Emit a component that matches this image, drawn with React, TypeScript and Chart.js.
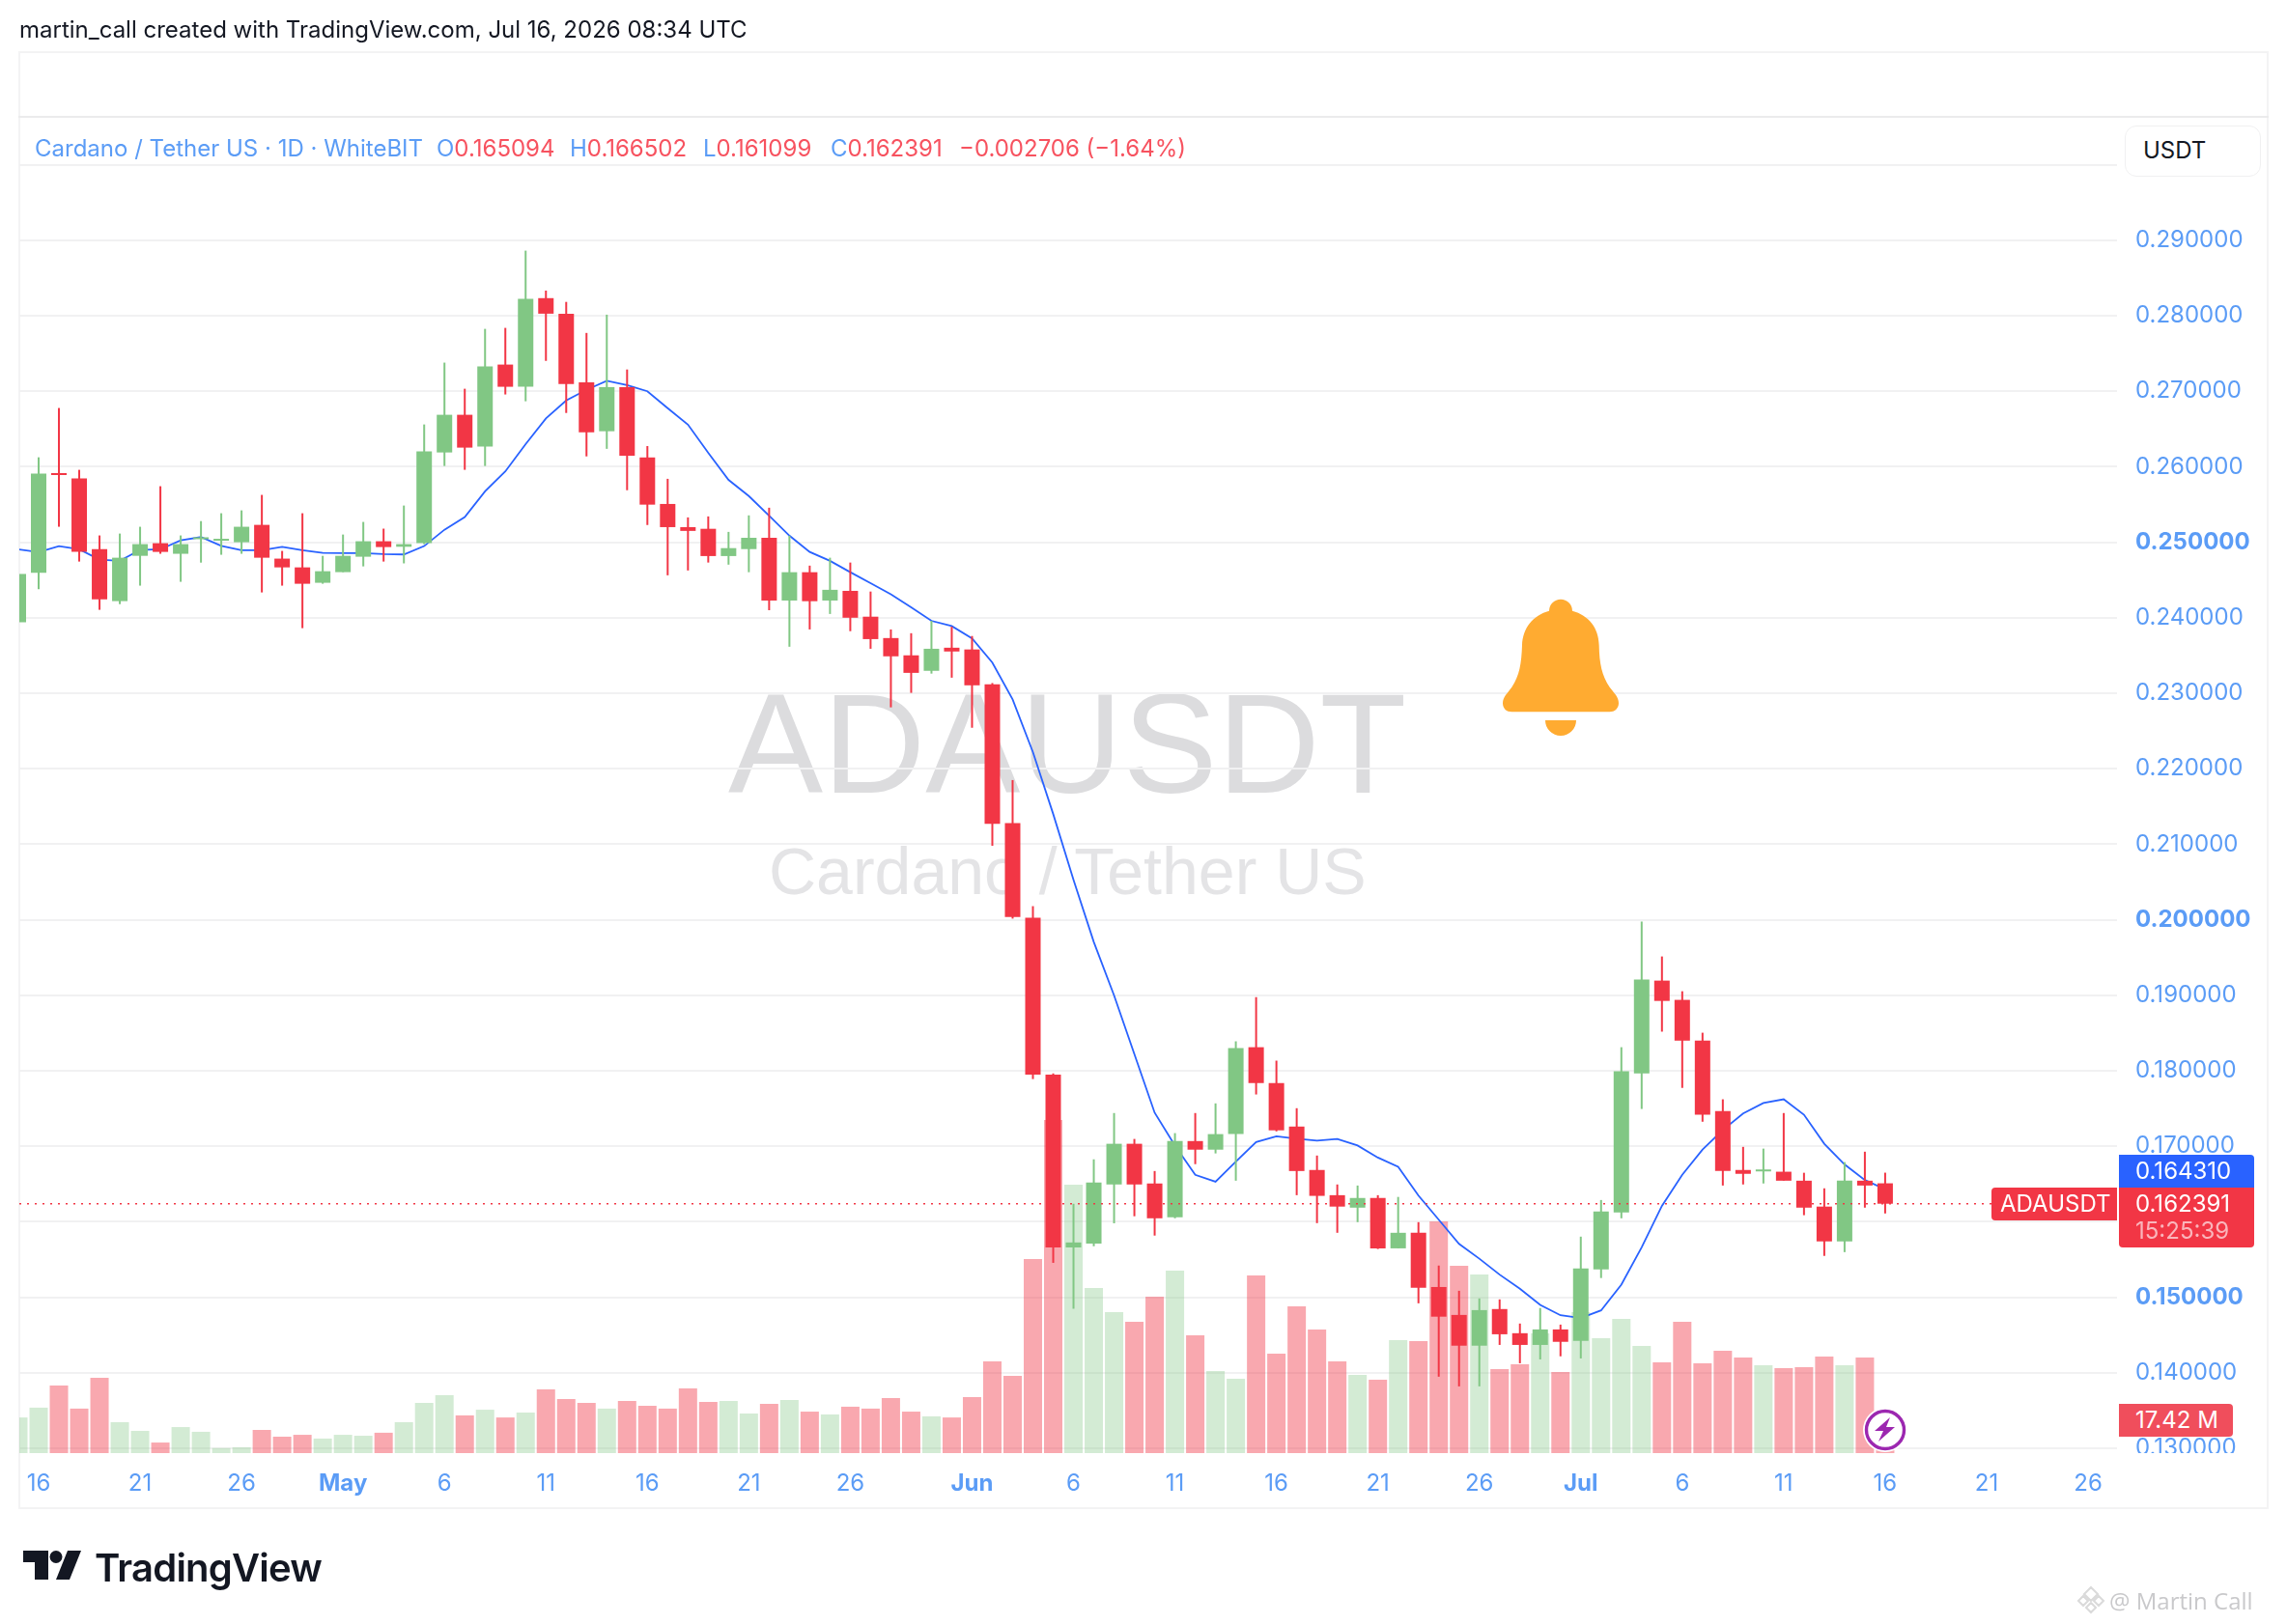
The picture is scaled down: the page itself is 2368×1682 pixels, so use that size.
import React, { useEffect, useRef } from "react";
import { Chart, registerables } from "chart.js";

Chart.register(...registerables);

const opens = [0.2394,0.24595,0.259,0.25844,0.2491,0.2422,0.2482,0.24987,0.24847,0.2504,0.2502,0.25,0.2523,0.24783,0.24667,0.24463,0.24604,0.24808,0.25013,0.2494,0.24987,0.26189,0.26688,0.26266,0.27353,0.27059,0.28233,0.28027,0.27119,0.2647,0.27055,0.26123,0.25507,0.252,0.25178,0.24817,0.24909,0.25059,0.24228,0.24603,0.24228,0.24356,0.24014,0.23731,0.23502,0.23297,0.23603,0.2358,0.23119,0.2128,0.20026,0.1795,0.1566,0.1571,0.16494,0.17033,0.16507,0.16059,0.17069,0.16955,0.17161,0.18312,0.17837,0.17261,0.16686,0.16352,0.16187,0.16315,0.15648,0.15854,0.15136,0.14766,0.14359,0.14844,0.14524,0.14369,0.14574,0.14423,0.15369,0.16123,0.17965,0.19194,0.18939,0.18399,0.17467,0.16686,0.16667,0.16663,0.16544,0.16201,0.1574,0.16544,0.165094];
const highs = [0.2458,0.26125,0.26778,0.25959,0.2509,0.25115,0.25205,0.25742,0.2509,0.2528,0.25384,0.25422,0.25627,0.24885,0.25384,0.2482,0.25102,0.25269,0.2518,0.25486,0.2656,0.27379,0.27033,0.27826,0.27839,0.28862,0.28333,0.28183,0.27772,0.28014,0.27288,0.26274,0.2584,0.25329,0.25342,0.25137,0.25356,0.25457,0.25087,0.2469,0.24795,0.24731,0.24347,0.23845,0.23795,0.23959,0.23881,0.23758,0.23135,0.2185,0.2018,0.17965,0.16238,0.16827,0.1744,0.17097,0.16672,0.17174,0.1744,0.17568,0.1839,0.18975,0.18134,0.17504,0.16877,0.16494,0.1648,0.16352,0.16329,0.15995,0.1542,0.15086,0.14985,0.14972,0.14652,0.14858,0.14638,0.15803,0.16288,0.18312,0.19976,0.19514,0.19053,0.18504,0.17622,0.16992,0.16969,0.1744,0.16649,0.16443,0.1679,0.16928,0.166502];
const lows = [0.2394,0.24378,0.25205,0.24744,0.24105,0.2418,0.24425,0.24847,0.24476,0.2473,0.24834,0.24847,0.24335,0.24425,0.23862,0.2445,0.24604,0.2468,0.24744,0.2472,0.24974,0.2601,0.25959,0.2601,0.26957,0.26867,0.27402,0.26712,0.26137,0.26237,0.25689,0.25228,0.24562,0.24626,0.24731,0.24703,0.24603,0.241,0.23616,0.23845,0.2405,0.23822,0.23589,0.22813,0.23005,0.2326,0.23206,0.22543,0.2098,0.20015,0.1789,0.15456,0.14848,0.15676,0.1598,0.16073,0.15817,0.16046,0.16763,0.16905,0.16544,0.17686,0.17197,0.16352,0.15982,0.15854,0.15995,0.15639,0.15648,0.1492,0.13948,0.1382,0.1382,0.14369,0.14126,0.14177,0.14218,0.1419,0.15255,0.16046,0.17494,0.18518,0.17773,0.17325,0.1648,0.16494,0.16507,0.16544,0.16087,0.15548,0.15598,0.16187,0.161099];
const closes = [0.2458,0.25908,0.2589,0.24872,0.24245,0.24795,0.24975,0.24872,0.24975,0.2505,0.25035,0.25205,0.24795,0.24667,0.2445,0.24616,0.2482,0.25013,0.24936,0.24975,0.26202,0.26688,0.26253,0.27328,0.27059,0.28223,0.28027,0.27096,0.26457,0.27055,0.26146,0.25498,0.252,0.2515,0.24817,0.24922,0.25059,0.24228,0.24603,0.24219,0.2437,0.24,0.23717,0.23489,0.2327,0.23589,0.23553,0.23105,0.2127,0.20037,0.1795,0.1566,0.15726,0.1652,0.17033,0.16494,0.16046,0.17069,0.16955,0.17161,0.18299,0.17837,0.17211,0.16672,0.16343,0.16201,0.16315,0.15648,0.15854,0.15127,0.14743,0.14359,0.1483,0.1451,0.14369,0.14574,0.1441,0.15383,0.16137,0.17993,0.19208,0.18925,0.18399,0.17417,0.16672,0.16635,0.16686,0.16544,0.16187,0.1574,0.16544,0.1648,0.162391];
const movingAverage = [0.24906,0.24868,0.24949,0.24906,0.2477,0.24753,0.24898,0.24906,0.25026,0.25068,0.24953,0.24893,0.24893,0.2494,0.24893,0.24859,0.24855,0.24855,0.24842,0.24838,0.24949,0.25166,0.25333,0.25674,0.25938,0.263,0.26639,0.26877,0.27018,0.27137,0.27082,0.27,0.26776,0.26557,0.26183,0.25826,0.25612,0.25352,0.25087,0.24872,0.24753,0.24603,0.24457,0.24311,0.24137,0.23959,0.2389,0.23726,0.23406,0.22918,0.2222,0.214,0.2053,0.19706,0.18998,0.18221,0.17444,0.1701,0.16622,0.1653,0.16795,0.17056,0.17133,0.17101,0.17074,0.17097,0.1701,0.1685,0.16727,0.16347,0.16027,0.15708,0.15511,0.153,0.15113,0.14899,0.14762,0.14725,0.14826,0.15168,0.15662,0.1621,0.16622,0.16955,0.17216,0.17435,0.17572,0.17622,0.17417,0.17033,0.16759,0.16553,0.16431];
const volumesM = [18.9,24.1,35.8,23.6,39.9,16.4,11.8,5.6,13.8,11.3,2.7,3.1,12.3,8.7,9.7,7.7,9.7,9.2,10.8,16.4,26.6,30.7,20.0,23.0,18.9,21.5,33.8,28.7,26.6,23.6,27.6,25.1,23.6,34.3,27.1,27.6,21.0,26.1,28.2,22.0,20.5,24.6,23.6,29.2,22.0,19.5,18.9,29.7,48.6,41.0,102.9,176.6,142.3,87.6,74.8,69.6,82.9,96.8,62.5,43.5,39.4,94.2,52.7,77.8,65.5,48.6,41.5,38.9,59.9,59.4,122.9,99.3,94.7,44.5,47.1,63.5,43.0,74.8,60.9,71.2,56.8,48.1,69.6,47.6,54.3,50.7,46.6,45.1,45.6,51.2,46.6,50.7,17.42];

const priceTicks = [0.13,0.14,0.15,0.16,0.17,0.18,0.19,0.2,0.21,0.22,0.23,0.24,0.25,0.26,0.27,0.28,0.29,0.3];
const boldPriceTicks = [0.15,0.2,0.25];
const hiddenPriceTicks = [0.16,0.3];
const dateTickIndex = [1,6,11,16,21,26,31,36,41,47,52,57,62,67,72,77,82,87,92,97,102];
const dateTickLabels = ["16","21","26","May","6","11","16","21","26","Jun","6","11","16","21","26","Jul","6","11","16","21","26"];
const boldDateLabels = ["May","Jun","Jul"];

const lastClose = 0.162391;
const GREEN = "#81C784";
const RED = "#F23645";
const BLUE_TEXT = "#5B9CF6";
const LEGEND_RED = "#F7525F";
const GRID = "#F1F1F2";
const FONT = "Inter, 'Noto Sans', sans-serif";

const W = 2368;
const H = 1682;
const area = { left: 20, right: 2192, top: 121, bottom: 1505 };

function abs(style: React.CSSProperties): React.CSSProperties {
  return { position: "absolute", whiteSpace: "nowrap", fontFamily: FONT, ...style };
}

export default function App() {
  const ref = useRef<HTMLCanvasElement | null>(null);

  useEffect(() => {
    if (!ref.current) return;
    const indices = closes.map((_, i) => i);
    const up = indices.map((i) => closes[i] >= opens[i]);
    const candleColors = up.map((u) => (u ? GREEN : RED));
    const volumeColors = up.map((u) => (u ? "rgba(129,199,132,0.35)" : "rgba(242,54,69,0.43)"));
    const xPitch = 21.01;
    const xMin = 1 / xPitch;
    const xMax = xMin + (area.right - area.left) / xPitch;

    const framePlugin = {
      id: "frame",
      beforeDraw(chart: any) {
        const c = chart.ctx;
        c.save();
        c.fillStyle = "#F3F3F4";
        c.fillRect(19, 53, 2, 1510);
        c.fillRect(2347, 53, 2, 1510);
        c.fillRect(19, 53, 2330, 2);
        c.fillRect(19, 1561, 2330, 2);
        c.fillStyle = "#EBEBEC";
        c.fillRect(19, 120, 2330, 2);
        c.restore();
      },
      afterDraw(chart: any) {
        const c = chart.ctx;
        c.save();
        c.fillStyle = "#FFFFFF";
        c.fillRect(2193, 1505, 150, 50);
        c.restore();
      },
    };

    const chart = new Chart(ref.current, {
      type: "bar",
      plugins: [framePlugin],
      data: {
        datasets: [
          {
            type: "bar",
            label: "Volume",
            yAxisID: "vol",
            order: 4,
            grouped: false,
            barThickness: 19,
            inflateAmount: 0,
            data: indices.map((i) => ({ x: i, y: volumesM[i] })),
            backgroundColor: volumeColors,
          },
          {
            type: "line",
            label: "MA",
            yAxisID: "y",
            order: 3,
            data: indices.map((i) => ({ x: i, y: movingAverage[i] })),
            borderColor: "#2962FF",
            borderWidth: 1.8,
            pointRadius: 0,
            tension: 0,
          },
          {
            type: "bar",
            label: "Wicks",
            yAxisID: "y",
            order: 2,
            grouped: false,
            barThickness: 2,
            inflateAmount: 0,
            data: indices.map((i) => ({ x: i, y: [lows[i], highs[i]] })),
            backgroundColor: candleColors,
          },
          {
            type: "bar",
            label: "Bodies",
            yAxisID: "y",
            order: 1,
            grouped: false,
            barThickness: 16,
            inflateAmount: 0,
            minBarLength: 2,
            data: indices.map((i) => ({ x: i, y: [opens[i], closes[i]] })),
            backgroundColor: candleColors,
          },
          {
            type: "line",
            label: "Last",
            yAxisID: "y",
            order: 0,
            data: [
              { x: xMin, y: lastClose },
              { x: xMax, y: lastClose },
            ],
            borderColor: RED,
            borderWidth: 1.6,
            borderDash: [2, 6],
            pointRadius: 0,
          },
        ] as any,
      },
      options: {
        responsive: false,
        animation: false,
        devicePixelRatio: 1,
        events: [],
        layout: {
          padding: { left: area.left, top: area.top, right: 0, bottom: 0 },
        },
        plugins: { legend: { display: false }, tooltip: { enabled: false }, title: { display: false } },
        scales: {
          x: {
            type: "linear",
            min: xMin,
            max: xMax,
            offset: false,
            grid: { display: false, drawTicks: false },
            border: { display: false },
            afterFit(scale: any) {
              scale.height = H - area.bottom;
            },
            afterBuildTicks(scale: any) {
              scale.ticks = dateTickIndex.map((v) => ({ value: v }));
            },
            ticks: {
              autoSkip: false,
              maxRotation: 0,
              minRotation: 0,
              padding: 17,
              color: BLUE_TEXT,
              callback: (v: any) => dateTickLabels[dateTickIndex.indexOf(v)],
              font: (ctx: any) => ({
                family: FONT,
                size: 24,
                weight: boldDateLabels.includes(dateTickLabels[dateTickIndex.indexOf(ctx.tick?.value)]) ? "bold" : "normal",
              }),
            },
          },
          y: {
            type: "linear",
            position: "right",
            min: 0.13 - 5 / 7820,
            max: 0.13 + 1379 / 7820,
            grid: { color: GRID, lineWidth: 2, drawTicks: false },
            border: { display: false },
            afterFit(scale: any) {
              scale.width = W - area.right;
            },
            afterBuildTicks(scale: any) {
              scale.ticks = priceTicks.map((v) => ({ value: v }));
            },
            ticks: {
              padding: 19,
              color: BLUE_TEXT,
              autoSkip: false,
              callback: (v: any) =>
                hiddenPriceTicks.some((t) => Math.abs(t - v) < 1e-9) ? "" : Number(v).toFixed(6),
              font: (ctx: any) => ({
                family: FONT,
                size: 24,
                weight: boldPriceTicks.some((t) => Math.abs(t - ctx.tick?.value) < 1e-9) ? "bold" : "normal",
              }),
            },
          },
          vol: {
            type: "linear",
            display: false,
            min: 0,
            max: (area.bottom - area.top) * 0.512,
          },
        },
      } as any,
    });
    return () => chart.destroy();
  }, []);

  const legendText = { fontSize: 24, top: 139, lineHeight: "30px" };
  const priceLabel = { fontSize: 24, color: "#FFFFFF", left: 2211 };

  return (
    <div style={{ position: "fixed", left: 0, top: 0, width: W, height: H, background: "#FFFFFF", overflow: "hidden" }}>
      <div style={abs({ left: 754, top: 690, fontSize: 147, lineHeight: "160px", color: "#DCDCDE", fontFamily: "'Liberation Sans', Arial, sans-serif" })}>ADAUSDT</div>
      <div style={abs({ left: 796, top: 862, fontSize: 68, lineHeight: "80px", color: "#E4E4E6", fontFamily: "'Liberation Sans', Arial, sans-serif" })}>Cardano / Tether US</div>

      <canvas ref={ref} width={W} height={H} style={{ position: "absolute", left: 0, top: 0, width: W, height: H }} />

      <div style={abs({ left: 20, top: 16, fontSize: 24, lineHeight: "30px", color: "#131722" })}>
        martin_call created with TradingView.com, Jul 16, 2026 08:34 UTC
      </div>

      <div style={abs({ ...legendText, left: 36, color: BLUE_TEXT })}>Cardano / Tether US · 1D · WhiteBIT</div>
      <div style={abs({ ...legendText, left: 452, color: BLUE_TEXT })}>O<span style={{ color: LEGEND_RED }}>0.165094</span></div>
      <div style={abs({ ...legendText, left: 590, color: BLUE_TEXT })}>H<span style={{ color: LEGEND_RED }}>0.166502</span></div>
      <div style={abs({ ...legendText, left: 728, color: BLUE_TEXT })}>L<span style={{ color: LEGEND_RED }}>0.161099</span></div>
      <div style={abs({ ...legendText, left: 860, color: BLUE_TEXT })}>C<span style={{ color: LEGEND_RED }}>0.162391</span></div>
      <div style={abs({ ...legendText, left: 993, color: LEGEND_RED })}>−0.002706 (−1.64%)</div>

      <div style={{ position: "absolute", left: 2200, top: 130, width: 139, height: 51, border: "1px solid #F0F0F1", borderRadius: 12, background: "#FFFFFF" }} />
      <div style={abs({ left: 2219, top: 141, fontSize: 24, lineHeight: "30px", color: "#131722" })}>USDT</div>

      <div style={{ position: "absolute", left: 2194, top: 1196, width: 140, height: 34, background: "#2962FF", borderRadius: "0 4px 0 0" }} />
      <div style={abs({ ...priceLabel, top: 1198, lineHeight: "30px" })}>0.164310</div>
      <div style={{ position: "absolute", left: 2062, top: 1230, width: 130, height: 34, background: RED, borderRadius: "4px 0 0 4px" }} />
      <div style={abs({ left: 2071, top: 1232, fontSize: 24, lineHeight: "30px", color: "#FFFFFF" })}>ADAUSDT</div>
      <div style={{ position: "absolute", left: 2194, top: 1230, width: 140, height: 62, background: RED, borderRadius: "0 0 4px 4px" }} />
      <div style={abs({ ...priceLabel, top: 1232, lineHeight: "30px" })}>0.162391</div>
      <div style={abs({ ...priceLabel, top: 1260, lineHeight: "30px", color: "#FAB5BB" })}>15:25:39</div>
      <div style={{ position: "absolute", left: 2194, top: 1454, width: 118, height: 34, background: "#F04E5C", borderRadius: "0 4px 4px 0" }} />
      <div style={abs({ ...priceLabel, top: 1456, lineHeight: "30px" })}>17.42 M</div>

      <svg style={{ position: "absolute", left: 1530, top: 600 }} width={170} height={180} viewBox="0 0 510 540">
        <path
          fill="#FFAB31"
          d="M222 98 A36 36 0 0 1 294 98 C345 112 376 150 377 205 C378 262 386 300 410 335 C425 355 438 365 438 385 C438 402 425 412 410 412 L106 412 C90 412 78 402 78 385 C78 365 92 355 106 335 C130 300 136 262 138 205 C140 150 172 112 222 98 Z M210 438 L306 438 A48 48 0 0 1 210 438 Z"
        />
      </svg>

      <svg style={{ position: "absolute", left: 1928, top: 1457 }} width={48} height={48} viewBox="0 0 48 48">
        <circle cx="24" cy="24" r="23" fill="#FFFFFF" />
        <circle cx="24" cy="24" r="19.5" fill="#FFFFFF" stroke="#9C27B0" strokeWidth="3.4" />
        <path fill="#9C27B0" d="M29 11 L13 25 L22 25 L17 36 L34 21 L25 21 Z" />
      </svg>

      <svg style={{ position: "absolute", left: 24, top: 1606 }} width={60} height={30} viewBox="0 0 60 30">
        <path fill="#131722" d="M0 0 H26 V30 H12 V12 H0 Z" />
        <circle cx="34" cy="6.5" r="6.5" fill="#131722" />
        <path fill="#131722" d="M46 0 H60 L48 30 H34 Z" />
      </svg>
      <div style={abs({ left: 98, top: 1599, fontSize: 40, lineHeight: "50px", fontWeight: 600, letterSpacing: "-0.8px", color: "#131722" })}>TradingView</div>

      <svg style={{ position: "absolute", left: 2150, top: 1642 }} width={30} height={30} viewBox="0 0 30 30">
        <path fill="none" stroke="#DADADA" strokeWidth="2" d="M15 2 L22 9 L15 16 L8 9 Z M7 11 L12 16 L7 21 L2 16 Z M23 11 L28 16 L23 21 L18 16 Z M15 18 L20 23 L15 28 L10 23 Z" />
      </svg>
      <div style={abs({ left: 2184, top: 1643, fontSize: 24, lineHeight: "30px", color: "#C9C9CB", fontFamily: "'Open Sans', sans-serif" })}>@ Martin Call</div>
    </div>
  );
}
